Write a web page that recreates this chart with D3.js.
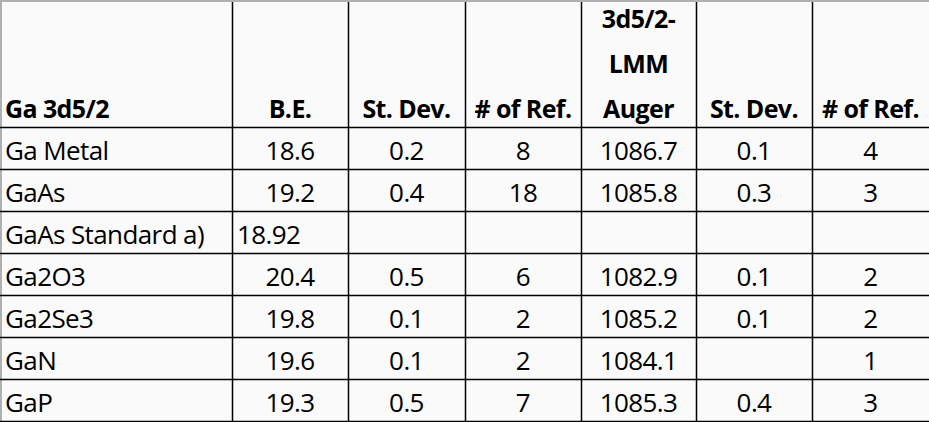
<!DOCTYPE html>
<html>
<head>
<meta charset="utf-8">
<script src="https://cdn.jsdelivr.net/npm/d3@7"></script>
<style>
  body { margin: 0; background: #fafafa; }
  text { font-family: "Open Sans", sans-serif; fill: #000; }
</style>
</head>
<body>
<svg id="chart"></svg>
<script>
var width = 929, height = 422;

var headers = [["Ga 3d5/2"], ["B.E."], ["St. Dev."], ["# of Ref."], ["3d5/2-", "LMM", "Auger"], ["St. Dev."], ["# of Ref."]];
var compounds = ["Ga Metal", "GaAs", "GaAs Standard a)", "Ga2O3", "Ga2Se3", "GaN", "GaP"];
var bindingEnergy = ["18.6", "19.2", "18.92", "20.4", "19.8", "19.6", "19.3"];
var beStDev = ["0.2", "0.4", "", "0.5", "0.1", "0.1", "0.5"];
var beRefs = ["8", "18", "", "6", "2", "2", "7"];
var auger = ["1086.7", "1085.8", "", "1082.9", "1085.2", "1084.1", "1085.3"];
var augerStDev = ["0.1", "0.3", "", "0.1", "0.1", "", "0.4"];
var augerRefs = ["4", "3", "", "2", "2", "1", "3"];

var colEdges = [0, 232, 348, 465, 581, 696, 812, 929];
var headerBottom = 127, rowH = 42;

var svg = d3.select("#chart").attr("width", width).attr("height", height);

// outer gray border (top/left)
svg.append("line").attr("x1", 0).attr("x2", width).attr("y1", 1).attr("y2", 1)
  .attr("stroke", "#b0b0b0").attr("stroke-width", 2);
svg.append("line").attr("x1", 1).attr("x2", 1).attr("y1", 0).attr("y2", height)
  .attr("stroke", "#b0b0b0").attr("stroke-width", 2);

// grid
colEdges.slice(1, -1).forEach(function (x) {
  svg.append("line").attr("x1", x + 0.5).attr("x2", x + 0.5).attr("y1", 2).attr("y2", height)
    .attr("stroke", "#000").attr("stroke-width", 1.5);
});
for (var r = 0; r <= compounds.length; r++) {
  var y = headerBottom + r * rowH;
  svg.append("line").attr("x1", 0).attr("x2", width).attr("y1", y + 0.5).attr("y2", y + 0.5)
    .attr("stroke", "#000").attr("stroke-width", 1.5);
}

function cx(c) { return (colEdges[c] + colEdges[c + 1]) / 2; }

// headers
headers.forEach(function (lines, c) {
  lines.forEach(function (t, i) {
    svg.append("text")
      .attr("x", c === 0 ? 5 : cx(c))
      .attr("y", 118 - (lines.length - 1 - i) * 45)
      .attr("text-anchor", c === 0 ? "start" : "middle")
      .attr("font-size", 25).attr("font-weight", "bold")
      .attr("letter-spacing", -0.6)
      .text(t);
  });
});

var cols = [compounds, bindingEnergy, beStDev, beRefs, auger, augerStDev, augerRefs];
cols.forEach(function (vals, c) {
  vals.forEach(function (v, r) {
    if (v === "") return;
    svg.append("text")
      .attr("x", c === 0 ? 5 : (c === 1 && r === 2 ? colEdges[1] + 5 : cx(c)))
      .attr("y", headerBottom + r * rowH + 33)
      .attr("text-anchor", c === 0 || (c === 1 && r === 2) ? "start" : "middle")
      .attr("font-size", 26)
      .attr("letter-spacing", -0.6)
      .text(v);
  });
});
</script>
</body>
</html>
